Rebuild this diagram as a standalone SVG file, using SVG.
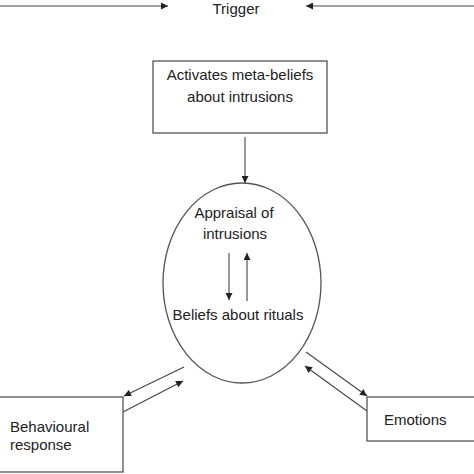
<svg xmlns="http://www.w3.org/2000/svg" width="474" height="474" viewBox="0 0 474 474">
<style>
.b{fill:#fff;stroke:#555;stroke-width:1.3}
.l{stroke:#444;stroke-width:1.1;fill:none;marker-end:url(#ah)}
text{font-family:"Liberation Sans",Arial,sans-serif;font-size:15px;fill:#222}
</style>
<defs>
<marker id="ah" viewBox="0 0 10 10" refX="10" refY="5" markerWidth="7" markerHeight="7" markerUnits="userSpaceOnUse" orient="auto">
<path d="M0,0 L10,5 L0,10 z" fill="#222"/>
</marker>
</defs>
<rect width="474" height="474" fill="#fff"/>
<g id="connectors">
<line class="l" x1="0" y1="6" x2="168" y2="6"/>
<line class="l" x1="474" y1="6" x2="306" y2="6"/>
<line class="l" x1="245" y1="137" x2="245" y2="183"/>
<line class="l" x1="229" y1="253" x2="229" y2="300"/>
<line class="l" x1="247" y1="301" x2="247" y2="253"/>
<line class="l" x1="184" y1="367" x2="124" y2="396"/>
<line class="l" x1="123" y1="412" x2="183" y2="381"/>
<line class="l" x1="306" y1="352" x2="367" y2="396"/>
<line class="l" x1="367" y1="411" x2="305" y2="366"/>
</g>
<g id="trigger">
<text x="236" y="14" text-anchor="middle">Trigger</text>
</g>
<g id="meta">
<rect class="b" x="153" y="61" width="174" height="72"/>
<text x="240" y="80" text-anchor="middle">Activates meta-beliefs</text>
<text x="240" y="102" text-anchor="middle">about intrusions</text>
</g>
<g id="appraisal">
<ellipse class="b" cx="242" cy="283" rx="79" ry="100" style="fill:none"/>
<text x="234" y="218" text-anchor="middle">Appraisal of</text>
<text x="235" y="239" text-anchor="middle">intrusions</text>
<text x="238" y="320" text-anchor="middle">Beliefs about rituals</text>
</g>
<g id="behaviour">
<rect class="b" x="-2" y="397" width="125" height="75"/>
<text x="10" y="432">Behavioural</text>
<text x="10" y="450">response</text>
</g>
<g id="emotions">
<rect class="b" x="367" y="397" width="110" height="44"/>
<text x="384" y="425">Emotions</text>
</g>
</svg>
